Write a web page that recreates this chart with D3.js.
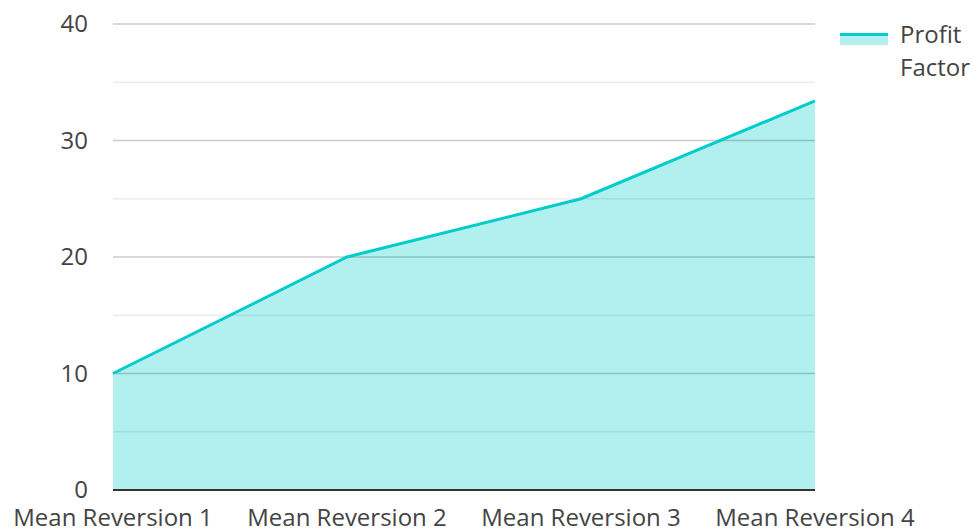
<!DOCTYPE html>
<html>
<head>
<meta charset="utf-8">
<script src="https://cdn.jsdelivr.net/npm/d3@7"></script>
<style>
  body { margin: 0; background: #fff; }
  text { font-family: "Open Sans", sans-serif; fill: #444; }
</style>
</head>
<body>
<div id="chart"></div>
<script>
const width = 973;
const height = 531;

// data
const categories = ["Mean Reversion 1", "Mean Reversion 2", "Mean Reversion 3", "Mean Reversion 4"];
const profitFactor = [10, 20, 25, 33.4];
const yTicks = [0, 10, 20, 30, 40];
const yMinorTicks = [5, 15, 25, 35];

const margin = { left: 113, right: 158, top: 24, bottom: 41 };
const lineColor = "#00cccc";
const fontSize = 24;

const svg = d3.select("#chart").append("svg")
  .attr("width", width)
  .attr("height", height);

const x = d3.scalePoint()
  .domain(categories)
  .range([margin.left, width - margin.right]);

const y = d3.scaleLinear()
  .domain([0, 40])
  .range([height - margin.bottom, margin.top]);

const data = categories.map((c, i) => ({ cat: c, v: profitFactor[i] }));

// area first, grid on top so it shows through
svg.append("path")
  .datum(data)
  .attr("fill", lineColor)
  .attr("fill-opacity", 0.3)
  .attr("d", d3.area().x(d => x(d.cat)).y0(y(0)).y1(d => y(d.v)));

// minor grid
svg.append("g")
  .selectAll("line")
  .data(yMinorTicks)
  .join("line")
  .attr("x1", margin.left).attr("x2", width - margin.right)
  .attr("y1", d => y(d)).attr("y2", d => y(d))
  .attr("stroke", "#000").attr("stroke-opacity", 0.08).attr("stroke-width", 1.5);

// major grid
svg.append("g")
  .selectAll("line")
  .data(yTicks.filter(t => t > 0))
  .join("line")
  .attr("x1", margin.left).attr("x2", width - margin.right)
  .attr("y1", d => y(d)).attr("y2", d => y(d))
  .attr("stroke", "#000").attr("stroke-opacity", 0.2).attr("stroke-width", 1.5);

// baseline
svg.append("line")
  .attr("x1", margin.left).attr("x2", width - margin.right)
  .attr("y1", y(0)).attr("y2", y(0))
  .attr("stroke", "#333").attr("stroke-width", 2);

// line
svg.append("path")
  .datum(data)
  .attr("fill", "none")
  .attr("stroke", lineColor)
  .attr("stroke-width", 3)
  .attr("d", d3.line().x(d => x(d.cat)).y(d => y(d.v)));

// y labels
svg.append("g")
  .selectAll("text")
  .data(yTicks)
  .join("text")
  .attr("x", 88)
  .attr("y", d => y(d))
  .attr("dy", "0.35em")
  .attr("text-anchor", "end")
  .attr("font-size", fontSize)
  .text(d => d);

// x labels
svg.append("g")
  .selectAll("text")
  .data(categories)
  .join("text")
  .attr("x", d => x(d))
  .attr("y", 526)
  .attr("text-anchor", "middle")
  .attr("font-size", fontSize)
  .text(d => d);

// legend
const legend = svg.append("g").attr("transform", "translate(840,33)");
legend.append("rect")
  .attr("width", 48).attr("height", 12)
  .attr("fill", lineColor).attr("fill-opacity", 0.3);
legend.append("line")
  .attr("x1", 0).attr("x2", 48).attr("y1", 1.5).attr("y2", 1.5)
  .attr("stroke", lineColor).attr("stroke-width", 3);
legend.append("text")
  .attr("x", 60).attr("y", 10)
  .attr("font-size", fontSize)
  .text("Profit");
legend.append("text")
  .attr("x", 60).attr("y", 43)
  .attr("font-size", fontSize)
  .text("Factor");
</script>
</body>
</html>
